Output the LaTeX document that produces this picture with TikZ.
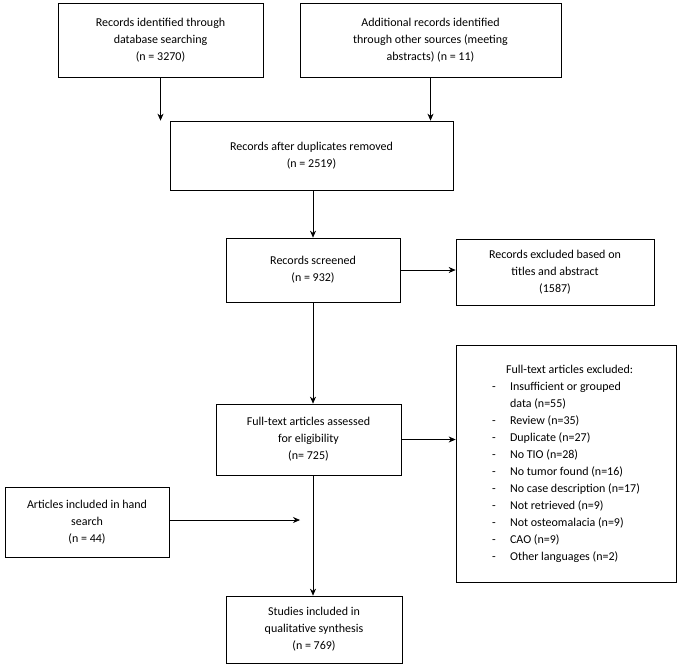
\documentclass[tikz,border=0pt]{standalone}
\usepackage{fontspec}
\setmainfont{Carlito}
\usetikzlibrary{arrows.meta}
\begin{document}
\begin{tikzpicture}[x=1pt,y=-1pt,
  box/.style={draw,line width=0.7pt,align=center,font=\fontsize{12}{17}\selectfont,inner sep=0pt},
  arr/.style={-{Stealth[length=7pt,width=6pt]},line width=0.7pt}]
\useasboundingbox (0,0) rectangle (682,670);
\node[box,minimum width=205,minimum height=74] (a) at (160.5,40) {Records identified through\\database searching\\(n = 3270)};
\node[box,minimum width=261,minimum height=74] (b) at (430.5,40) {Additional records identified\\through other sources (meeting\\abstracts) (n = 11)};
\node[box,minimum width=283,minimum height=69] (c) at (311.5,155.5) {Records after duplicates removed\\(n = 2519)};
\node[box,minimum width=174,minimum height=64] (d) at (313,270) {Records screened\\(n = 932)};
\node[box,minimum width=198,minimum height=66] (e) at (555,272) {Records excluded based on\\titles and abstract\\(1587)};
\node[box,minimum width=185,minimum height=71] (f) at (308.5,439.5) {Full-text articles assessed\\for eligibility\\(n= 725)};
\node[box,minimum width=220,minimum height=237,align=left] (g) at (566,463.5) {%
\begin{tabular}{@{}p{18pt}@{}l@{}}
\multicolumn{2}{@{\hspace{14pt}}l}{Full-text articles excluded:}\\
-&Insufficient or grouped\\
&data (n=55)\\
-&Review (n=35)\\
-&Duplicate (n=27)\\
-&No TIO (n=28)\\
-&No tumor found (n=16)\\
-&No case description (n=17)\\
-&Not retrieved (n=9)\\
-&Not osteomalacia (n=9)\\
-&CAO (n=9)\\
-&Other languages (n=2)
\end{tabular}};
\node[box,minimum width=164,minimum height=70] (h) at (87,522) {Articles included in hand\\search\\(n = 44)};
\node[box,minimum width=176,minimum height=67] (i) at (314,629.5) {Studies included in\\qualitative synthesis\\(n = 769)};
\draw[arr] (a.south) -- (a.south|-c.north);
\draw[arr] (b.south) -- (b.south|-c.north);
\draw[arr] (c.south-|d.north) -- (d.north);
\draw[arr] (d.east) -- (d.east-|e.west);
\draw[arr] (d.south) -- (d.south|-f.north);
\draw[arr] (f.east) -- (f.east-|g.west);
\draw[arr] (d.south|-f.south) -- (d.south|-i.north);
\coordinate (t) at (300,520);
\draw[arr] (h.east|-t) -- (t);
\end{tikzpicture}
\end{document}
